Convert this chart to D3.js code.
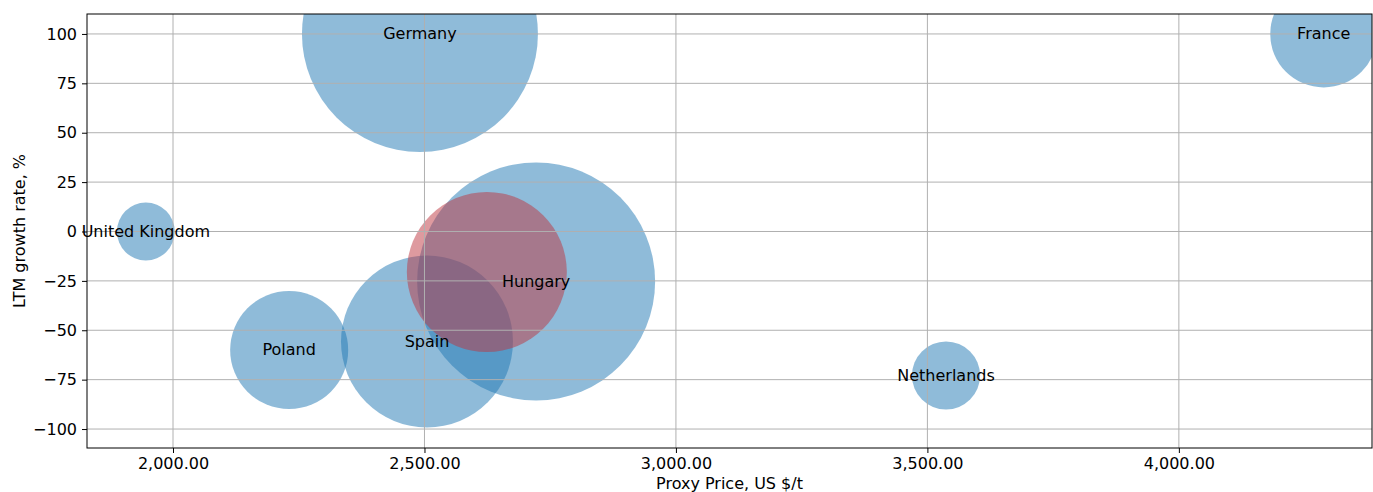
<!DOCTYPE html>
<html>
<head>
<meta charset="utf-8">
<script src="https://cdn.jsdelivr.net/npm/d3@7"></script>
<style>
  body { margin: 0; background: #fff; }
  svg text { font-family: "DejaVu Sans", sans-serif; }
</style>
</head>
<body>
<svg id="chart" width="1373" height="492"></svg>
<script>
// bubble data
const countries = ['Germany', 'France', 'United Kingdom', 'Poland', 'Hungary', 'Spain', 'Netherlands', ''];
const prices = [2491, 4288, 1946, 2231, 2722, 2505, 3537, 2624];
const growth = [100, 100, 0, -60, -25.3, -55.7, -72.9, -20.5];
const volumes = [98.3, 20.2, 5.9, 24.6, 100, 52.2, 8.2, 45.2];
const colours = ['blue', 'blue', 'blue', 'blue', 'blue', 'blue', 'blue', 'red'];
const xTicks = [2000, 2500, 3000, 3500, 4000];
const yTicks = [100, 75, 50, 25, 0, -25, -50, -75, -100];

const width = 1373, height = 492;
const margin = {top: 14, right: 1, bottom: 44, left: 87};

const svg = d3.select('#chart');

const x = d3.scaleLinear()
  .domain([1829, 4384])
  .range([margin.left, width - margin.right]);
const y = d3.scaleLinear()
  .domain([-109.6, 110.1])
  .range([height - margin.bottom, margin.top]);
const r = d3.scaleSqrt().domain([0, 100]).range([0, 119]);
const fill = d3.scaleOrdinal().domain(['blue', 'red']).range(['#1f77b4', '#be3640']);

const data = countries.map((c, i) => ({
  name: c, price: prices[i], growth: growth[i], vol: volumes[i], col: colours[i]
}));

// clip to plot area
svg.append('defs').append('clipPath').attr('id', 'plot')
  .append('rect')
  .attr('x', margin.left).attr('y', margin.top)
  .attr('width', width - margin.left - margin.right)
  .attr('height', height - margin.top - margin.bottom);

const plot = svg.append('g').attr('clip-path', 'url(#plot)');

plot.selectAll('circle')
  .data(data)
  .enter().append('circle')
  .attr('cx', d => x(d.price))
  .attr('cy', d => y(d.growth))
  .attr('r', d => r(d.vol))
  .attr('fill', d => fill(d.col))
  .attr('fill-opacity', 0.5);

// grid sits above the bubbles like matplotlib
const grid = svg.append('g');
grid.selectAll('.gx').data(xTicks).enter().append('line')
  .attr('x1', d => x(d)).attr('x2', d => x(d))
  .attr('y1', margin.top).attr('y2', height - margin.bottom)
  .attr('stroke', '#b0b0b0').attr('stroke-width', 1);
grid.selectAll('.gy').data(yTicks).enter().append('line')
  .attr('x1', margin.left).attr('x2', width - margin.right)
  .attr('y1', d => y(d)).attr('y2', d => y(d))
  .attr('stroke', '#b0b0b0').attr('stroke-width', 1);

const xAxis = svg.append('g')
  .attr('transform', `translate(0,${height - margin.bottom})`)
  .call(d3.axisBottom(x).tickValues(xTicks).tickSize(5).tickPadding(5)
    .tickFormat(d3.format(',.2f')));
const yAxis = svg.append('g')
  .attr('transform', `translate(${margin.left},0)`)
  .call(d3.axisLeft(y).tickValues(yTicks).tickSize(5).tickPadding(5)
    .tickFormat(d => d < 0 ? '\u2212' + Math.abs(d) : d));
[xAxis, yAxis].forEach(a => {
  a.select('.domain').remove();
  a.selectAll('text').attr('font-size', 16).attr('fill', '#000')
    .attr('font-family', '"DejaVu Sans", sans-serif');
  a.selectAll('line').attr('stroke', '#000');
});

// frame
svg.append('rect')
  .attr('x', margin.left).attr('y', margin.top)
  .attr('width', width - margin.left - margin.right)
  .attr('height', height - margin.top - margin.bottom)
  .attr('fill', 'none').attr('stroke', '#000').attr('stroke-width', 1);

// labels at the bubble centres
svg.selectAll('.lbl')
  .data(data.filter(d => d.name))
  .enter().append('text')
  .attr('x', d => x(d.price))
  .attr('y', d => y(d.growth))
  .attr('dy', '0.32em')
  .attr('text-anchor', 'middle')
  .attr('font-size', 16)
  .text(d => d.name);

svg.append('text')
  .attr('x', (margin.left + width - margin.right) / 2)
  .attr('y', 489)
  .attr('text-anchor', 'middle')
  .attr('font-size', 16)
  .text('Proxy Price, US $/t');

svg.append('text')
  .attr('transform', `translate(25,${(margin.top + height - margin.bottom) / 2}) rotate(-90)`)
  .attr('text-anchor', 'middle')
  .attr('font-size', 16)
  .text('LTM growth rate, %');
</script>
</body>
</html>
